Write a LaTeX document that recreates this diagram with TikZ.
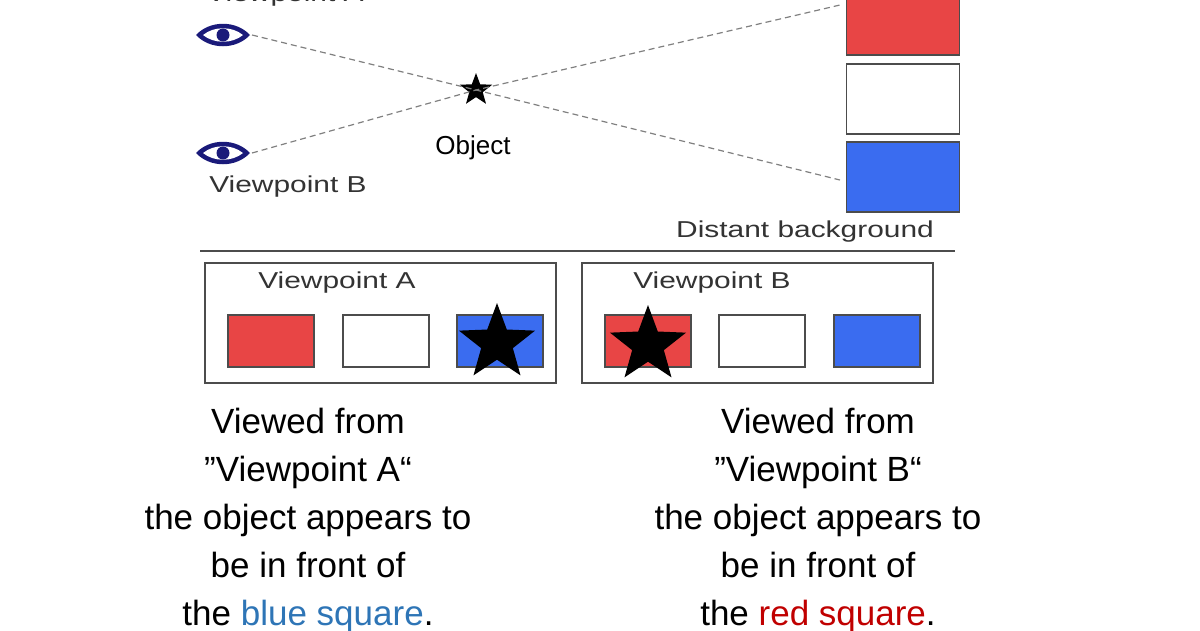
\documentclass[tikz,border=0pt]{standalone}
\usepackage{fontspec}
\setmainfont{Liberation Sans}
\newfontfamily\arl{Liberation Sans}
\usetikzlibrary{shapes.geometric}
\definecolor{rq}{HTML}{E84545}
\definecolor{bq}{HTML}{3A6CF0}
\definecolor{eyec}{HTML}{1A1A7A}
\definecolor{tb}{HTML}{2E75B6}
\definecolor{tr}{HTML}{C00000}
\newcommand{\wide}[1]{\scalebox{1.3}[1]{#1}}
\begin{document}
\begin{tikzpicture}[x=1pt,y=-1pt,
  sq/.style={draw=black!70,line width=1.3pt},
  lab/.style={font=\arl\fontsize{23}{24}\selectfont,text=black!80},
  dline/.style={dash pattern=on 6pt off 4pt,draw=black!50,line width=1.2pt},
  bigstar/.style={star,star points=5,star point ratio=2.4,fill=black,minimum size=80pt,inner sep=0pt},
  txt/.style={align=center,font=\fontsize{35}{48}\selectfont}]
\useasboundingbox (0,0) rectangle (1200,630);
% eyes
\foreach \n/\y in {ea/35,eb/153}{
  \fill[eyec] (196,\y) .. controls (210,\y-15) and (236,\y-15) .. (250,\y) .. controls (236,\y+15) and (210,\y+15) .. (196,\y) -- cycle;
  \fill[white] (203,\y) .. controls (214,\y-9) and (232,\y-9) .. (243,\y) .. controls (232,\y+9) and (214,\y+9) .. (203,\y) -- cycle;
  \fill[eyec] (223,\y) circle (6.5);
  \coordinate (\n) at (252,\y);
}
\node[lab] (la) at (285,-4) {\wide{Viewpoint A}};
\node[lab] (lb) at (288,187) {\wide{Viewpoint B}};
\node[star,star points=5,star point ratio=2.4,fill=black,minimum size=34pt,inner sep=0pt] (obj) at (476,90) {};
\node[font=\fontsize{26}{28}\selectfont] (objl) at (473,148) {Object};
% squares
\node[sq,fill=rq,minimum width=113pt,minimum height=66pt,inner sep=0pt] (r) at (903,22) {};
\node[sq,fill=white,minimum width=113pt,minimum height=70pt,inner sep=0pt] (w) at (903,99) {};
\node[sq,fill=bq,minimum width=113pt,minimum height=70pt,inner sep=0pt] (b) at (903,177) {};
\coordinate (rt) at (840,5);
\coordinate (bt) at (840,180);
\draw[dline] (ea) -- (obj.center) -- (bt);
\draw[dline] (eb) -- (obj.center) -- (rt);
\node[lab] (db) at (805,232) {\wide{Distant background}};
\draw[black!70,line width=1.3pt] (200,251) coordinate (h1) -- (955,251) coordinate (h2);
% panels
\draw[sq] (205,263) rectangle (556,383);
\draw[sq] (582,263) rectangle (933,383);
\node[lab] (pa) at (337,283) {\wide{Viewpoint A}};
\node[lab] (pb) at (712,283) {\wide{Viewpoint B}};
\tikzset{ps/.style={sq,minimum width=86pt,minimum height=52pt,inner sep=0pt}}
\node[ps,fill=rq] (a1) at (271,341) {};
\node[ps,fill=white] (a2) at (386,341) {};
\node[ps,fill=bq] (a3) at (500,341) {};
\node[ps,fill=rq] (b1) at (648,341) {};
\node[ps,fill=white] (b2) at (762,341) {};
\node[ps,fill=bq] (b3) at (877,341) {};
\node[bigstar] (sa) at (497,343) {};
\node[bigstar] (sb) at (648,345) {};
\node[txt,anchor=north] (ta) at (308,405) {Viewed from\\\char"22 Viewpoint A“\\the object appears to\\be in front of\\the \textcolor{tb}{\underline{blue square}}.};
\node[txt,anchor=north] (tb) at (818,405) {Viewed from\\\char"22 Viewpoint B“\\the object appears to\\be in front of\\the \textcolor{tr}{\underline{red square}}.};
\end{tikzpicture}
\end{document}
